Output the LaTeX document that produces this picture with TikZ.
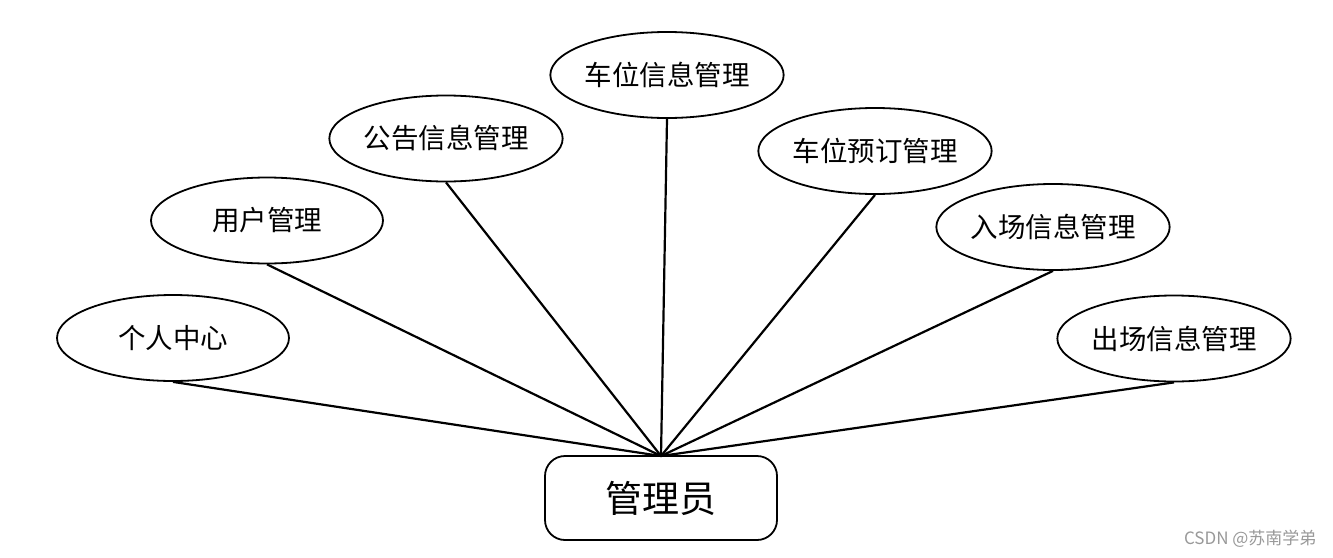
\documentclass[tikz,border=0pt]{standalone}
\usepackage{fontspec}
\setmainfont{Liberation Sans}
\newfontfamily\cjk{Noto Sans CJK SC}
\usetikzlibrary{shapes.geometric}
\begin{document}
\begin{tikzpicture}[x=1pt,y=-1pt,
  attr/.style={ellipse,draw,line width=1.8pt,minimum width=232pt,minimum height=86pt,inner sep=0pt,font=\cjk\fontsize{27.5}{32}\selectfont},
  ent/.style={rectangle,rounded corners=20pt,draw,line width=1.8pt,minimum width=232pt,minimum height=84pt,inner sep=0pt,font=\cjk\fontsize{37}{44}\selectfont},
  conn/.style={line width=2.2pt}]
\useasboundingbox (0,0) rectangle (1333,557);
\fill[white] (0,0) rectangle (1333,557);
\node[ent] (admin) at (661,498) {管理员};
\coordinate (hub) at (661,456);
\node[attr] (a1) at (173,338) {个人中心};
\node[attr] (a2) at (267,220.5) {用户管理};
\node[attr] (a3) at (446,138.5) {公告信息管理};
\node[attr] (a4) at (667,75) {车位信息管理};
\node[attr] (a5) at (875,151) {车位预订管理};
\node[attr] (a6) at (1053,227) {入场信息管理};
\node[attr] (a7) at (1174,338.5) {出场信息管理};
\foreach \n in {a1,a2,a3,a4,a5,a6,a7}{\draw[conn] (\n.south) -- (hub);}
\node[text=gray!80,font=\cjk\fontsize{17}{20}\selectfont,anchor=east] (wm) at (1320,539) {CSDN @苏南学弟};
\end{tikzpicture}
\end{document}
